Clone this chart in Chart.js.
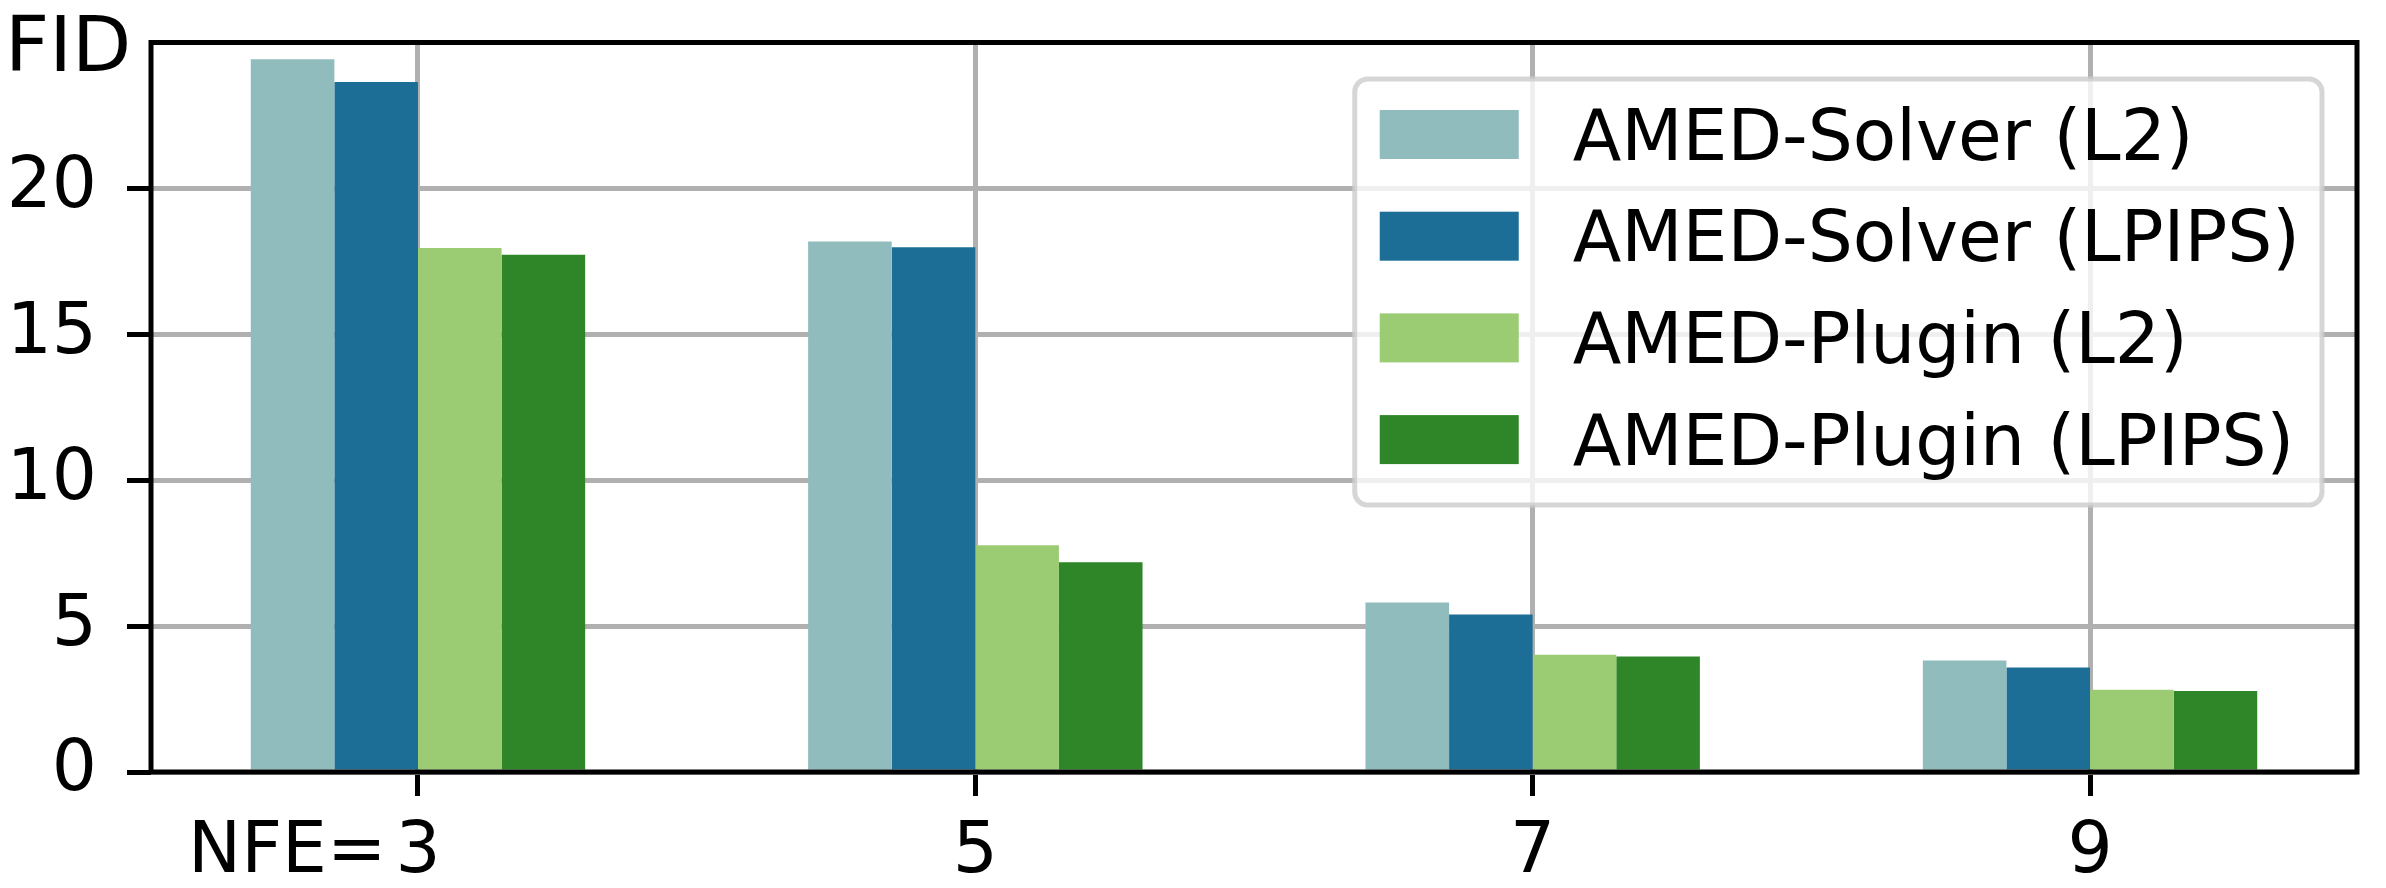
<!DOCTYPE html>
<html>
<head>
<meta charset="utf-8">
<script src="https://cdn.jsdelivr.net/npm/chart.js@4.4.0/dist/chart.umd.min.js"></script>
<style>
  html, body { margin: 0; padding: 0; background: #fff; }
  #wrap { width: 2386px; height: 888px; position: relative; }
</style>
</head>
<body>
<div id="wrap"><canvas id="fidChart"></canvas></div>
<script>
// values
const nfeSteps = [3, 5, 7, 9];
const solverL2 = [24.43, 18.18, 5.81, 3.82];
const solverLpips = [23.65, 17.98, 5.40, 3.58];
const pluginL2 = [17.96, 7.77, 4.02, 2.82];
const pluginLpips = [17.73, 7.19, 3.96, 2.78];
const seriesNames = ["AMED-Solver (L2)", "AMED-Solver (LPIPS)", "AMED-Plugin (L2)", "AMED-Plugin (LPIPS)"];
const seriesColors = ["#91bcbd", "#1d6e96", "#9bcc74", "#2e8628"];
const yTickValues = [0, 5, 10, 15, 20];

const FONT = '"DejaVu Sans", "Liberation Sans", sans-serif';
const TICK_SIZE = 71;
const TICK_LEN = 24;
// matplotlib leaves ~0.48 of a group step free on each side
const xMargin = 0.479 * (nfeSteps[1] - nfeSteps[0]);

// x labels should sit on a baseline 101px under the plot; Chart.js places
// them with a 'middle' baseline, so work out the padding that gives that
const probe = document.createElement('canvas').getContext('2d');
probe.font = TICK_SIZE + 'px ' + FONT;
probe.textBaseline = 'middle';
const midToBase = probe.measureText('3').actualBoundingBoxDescent;
const xLabelPad = 101 - TICK_LEN - TICK_SIZE * 1.2 / 2 - midToBase;

const toPoints = vals => nfeSteps.map((x, i) => ({ x: x, y: vals[i] }));

// black box round the plot, drawn over the bar feet like matplotlib spines
const framePlugin = {
    id: 'frame',
    afterDatasetsDraw(chart) {
        const { ctx, chartArea: a } = chart;
        ctx.save();
        ctx.strokeStyle = '#000';
        ctx.lineWidth = 5;
        ctx.strokeRect(a.left, a.top, a.right - a.left, a.bottom - a.top);
        ctx.restore();
    }
};

// "FID" axis title and the "NFE=" prefix in front of the first tick
const textPlugin = {
    id: 'extraText',
    afterDraw(chart) {
        const { ctx, chartArea: a } = chart;
        const xs = chart.scales.x;
        ctx.save();
        ctx.fillStyle = '#000';
        ctx.textBaseline = 'alphabetic';
        ctx.font = '77px ' + FONT;
        ctx.textAlign = 'left';
        ctx.fillText('FID', 5, a.top + 28.5);

        ctx.font = TICK_SIZE + 'px ' + FONT;
        ctx.textAlign = 'right';
        ctx.textBaseline = 'middle';
        const px = xs.getPixelForValue(nfeSteps[0]);
        const half = ctx.measureText(String(nfeSteps[0])).width / 2;
        const midY = xs.top + TICK_LEN + xLabelPad + TICK_SIZE * 1.2 / 2;
        ctx.fillText('NFE=', px - half - 9, midY);
        ctx.restore();
    }
};

// matplotlib-style legend box inside the plot, upper right
const legendPlugin = {
    id: 'boxLegend',
    afterDraw(chart) {
        const { ctx, chartArea: a } = chart;
        const sets = chart.data.datasets;
        ctx.save();
        ctx.font = TICK_SIZE + 'px ' + FONT;
        const textW = Math.max(...sets.map(d => ctx.measureText(d.label).width));
        const sw = 139, sh = 49, row = 101.7;
        const padL = 25, gap = 56, padR = 20, padT = 31, padB = 41;
        const w = padL + sw + gap + textW + padR;
        const h = padT + row * (sets.length - 1) + sh + padB;
        const x0 = a.right - 35 - w;
        const y0 = a.top + 36.5;

        ctx.beginPath();
        ctx.roundRect(x0, y0, w, h, 13);
        ctx.fillStyle = 'rgba(255,255,255,0.8)';
        ctx.fill();
        ctx.lineWidth = 5;
        ctx.strokeStyle = 'rgba(204,204,204,0.8)';
        ctx.stroke();

        ctx.textAlign = 'left';
        ctx.textBaseline = 'alphabetic';
        sets.forEach((d, i) => {
            const top = y0 + padT + i * row;
            ctx.fillStyle = d.backgroundColor;
            ctx.fillRect(x0 + padL, top, sw, sh);
            ctx.fillStyle = '#000';
            ctx.fillText(d.label, x0 + padL + sw + gap - 2, top + sh / 2 + 25);
        });
        ctx.restore();
    }
};

const gridStyle = {
    color: '#b0b0b0',
    lineWidth: 5,
    drawTicks: true,
    tickLength: TICK_LEN,
    tickColor: '#000',
    tickWidth: 5
};

new Chart(document.getElementById('fidChart').getContext('2d'), {
    type: 'bar',
    data: {
        datasets: [
            { label: seriesNames[0], data: toPoints(solverL2), backgroundColor: seriesColors[0] },
            { label: seriesNames[1], data: toPoints(solverLpips), backgroundColor: seriesColors[1] },
            { label: seriesNames[2], data: toPoints(pluginL2), backgroundColor: seriesColors[2] },
            { label: seriesNames[3], data: toPoints(pluginLpips), backgroundColor: seriesColors[3] }
        ]
    },
    options: {
        responsive: true,
        maintainAspectRatio: false,
        animation: false,
        layout: { padding: { top: 42.5, right: 29, bottom: 0, left: 0 } },
        datasets: {
            bar: { categoryPercentage: 0.6, barPercentage: 1.0, borderWidth: 0 }
        },
        scales: {
            x: {
                type: 'linear',
                position: 'bottom',
                offset: false,
                bounds: 'data',
                min: nfeSteps[0] - xMargin,
                max: nfeSteps[nfeSteps.length - 1] + xMargin,
                afterBuildTicks: scale => { scale.ticks = nfeSteps.map(v => ({ value: v })); },
                afterFit: scale => {
                    scale.height = 116;
                    scale.paddingLeft = 0;
                    scale.paddingRight = 0;
                },
                grid: { ...gridStyle, offset: false },
                border: { display: false },
                ticks: {
                    color: '#000',
                    font: { family: FONT, size: TICK_SIZE },
                    padding: xLabelPad,
                    maxRotation: 0,
                    autoSkip: false,
                    callback: v => String(v)
                }
            },
            y: {
                min: 0,
                max: 25,
                afterBuildTicks: scale => { scale.ticks = yTickValues.map(v => ({ value: v })); },
                afterFit: scale => {
                    scale.width = 151;
                    scale.paddingTop = 0;
                    scale.paddingBottom = 0;
                },
                grid: gridStyle,
                border: { display: false },
                ticks: {
                    color: '#000',
                    font: { family: FONT, size: TICK_SIZE },
                    padding: 30,
                    callback: v => String(v)
                }
            }
        },
        plugins: {
            legend: { display: false },
            tooltip: { enabled: false }
        }
    },
    plugins: [framePlugin, textPlugin, legendPlugin]
});
</script>
</body>
</html>
